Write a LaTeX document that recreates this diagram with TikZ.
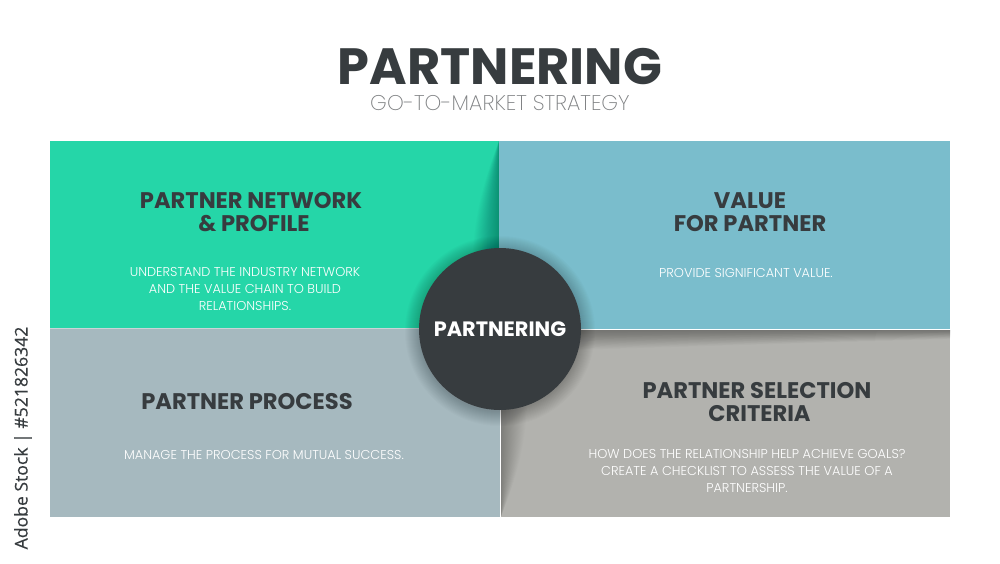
\documentclass[tikz,border=0pt]{standalone}
\usepackage{fontspec}
\setmainfont{Poppins}
\newfontfamily\lightf{Poppins Light}
\newfontfamily\thinf{Poppins ExtraLight}
\newfontfamily\stockf[FakeBold=0.4]{Open Sans}
\definecolor{ink}{HTML}{373C3F}
\definecolor{teal}{HTML}{25D6A8}
\definecolor{sky}{HTML}{7ABDCC}
\definecolor{slate}{HTML}{A6B9BF}
\definecolor{stone}{HTML}{B2B2AE}
\definecolor{sub}{HTML}{7E8082}
\tikzset{
  head/.style={font=\bfseries\fontsize{22.6}{24}\selectfont,text=ink,align=center,inner sep=0pt},
  body/.style={font=\lightf\fontsize{12.85}{16.6}\selectfont,text=white,align=center,inner sep=0pt},
}
\begin{document}
\begin{tikzpicture}[x=1pt,y=-1pt]
\useasboundingbox (0,0) rectangle (1000,563);
\fill[white] (0,0) rectangle (1000,563);
% panels
\fill[teal] (50,141) rectangle (499,328);
\fill[sky] (499,141) rectangle (950,329);
\fill[slate] (50,328) rectangle (500,517);
\fill[stone] (501,330) rectangle (950,517);
% panel shadows, built up from thin tapered layers
\begin{scope}
\clip (50,141) rectangle (499,328);
\foreach \w in {1,...,26}
  \fill[black,opacity=.013] (499,141) .. controls (499-.5*\w,175) and (499-\w,215) .. (499-\w,260) -- (499-\w,328) -- (499,328) -- cycle;
\end{scope}
\begin{scope}
\clip (501,330) rectangle (950,517);
\foreach \w in {1,...,26}
  \fill[black,opacity=.009] (501,330) -- (501+\w,330) -- (501+\w,400) .. controls (501+\w,450) and (501+.4*\w,490) .. (501,517) -- cycle;
\foreach \w in {1,...,22}
  \fill[black,opacity=.017] (501,330) -- (950,330) -- (950,330+.4*\w) -- (501,330+\w) -- cycle;
\end{scope}
% hairlines between panels
\draw[white,opacity=.4,line width=.8pt] (50,328.5) -- (499,328.5);
\draw[white,opacity=.6,line width=1pt] (500.2,330) -- (500.2,517);
\draw[white,opacity=.3,line width=.8pt] (499,329.6) -- (950,329.6);
% circle halo
\foreach \r in {81,...,95}
  \fill[black,opacity=.016] (500,331) circle (\r);
% circle
\node[circle,fill=ink,minimum size=162pt,inner sep=0pt] (hub) at (500,329) {};
\node[font=\bfseries\fontsize{20.8}{22}\selectfont,text=white,inner sep=0pt] (hubt) at (500,329) {PARTNERING};
% title
\node[font=\bfseries\fontsize{51}{54}\selectfont,text=ink,inner sep=0pt] (title) at (500,67) {PARTNERING};
\node[font=\thinf\fontsize{21.3}{24}\selectfont,text=sub,inner sep=0pt] (subt) at (500,103.5) {GO-TO-MARKET STRATEGY};
% headings
\node[head] (h1) at (251,212) {PARTNER NETWORK\\[-1.3pt]\hspace*{6pt}\& PROFILE};
\node[head] (h2) at (750,212) {VALUE\\[-1.3pt]FOR PARTNER};
\node[head] (h3) at (247,402) {PARTNER PROCESS};
\node[head] (h4) at (757,402) {PARTNER SELECTION\\[-1.3pt]\hspace*{5pt}CRITERIA};
% bodies
\node[body] (b1) at (245,289) {UNDERSTAND THE INDUSTRY NETWORK\\AND THE VALUE CHAIN TO BUILD\\RELATIONSHIPS.};
\node[body] (b2) at (746,272.5) {PROVIDE SIGNIFICANT VALUE.};
\node[body] (b3) at (264,454.5) {MANAGE THE PROCESS FOR MUTUAL SUCCESS.};
\node[body] (b4) at (747,471) {HOW DOES THE RELATIONSHIP HELP ACHIEVE GOALS?\\CREATE A CHECKLIST TO ASSESS THE VALUE OF A\\PARTNERSHIP.};
% stock mark
\node[rotate=90,font=\stockf\fontsize{17.6}{20}\selectfont,text=ink,inner sep=0pt] (mark) at (23,438) {Adobe Stock | \#521826342};
\end{tikzpicture}
\end{document}
